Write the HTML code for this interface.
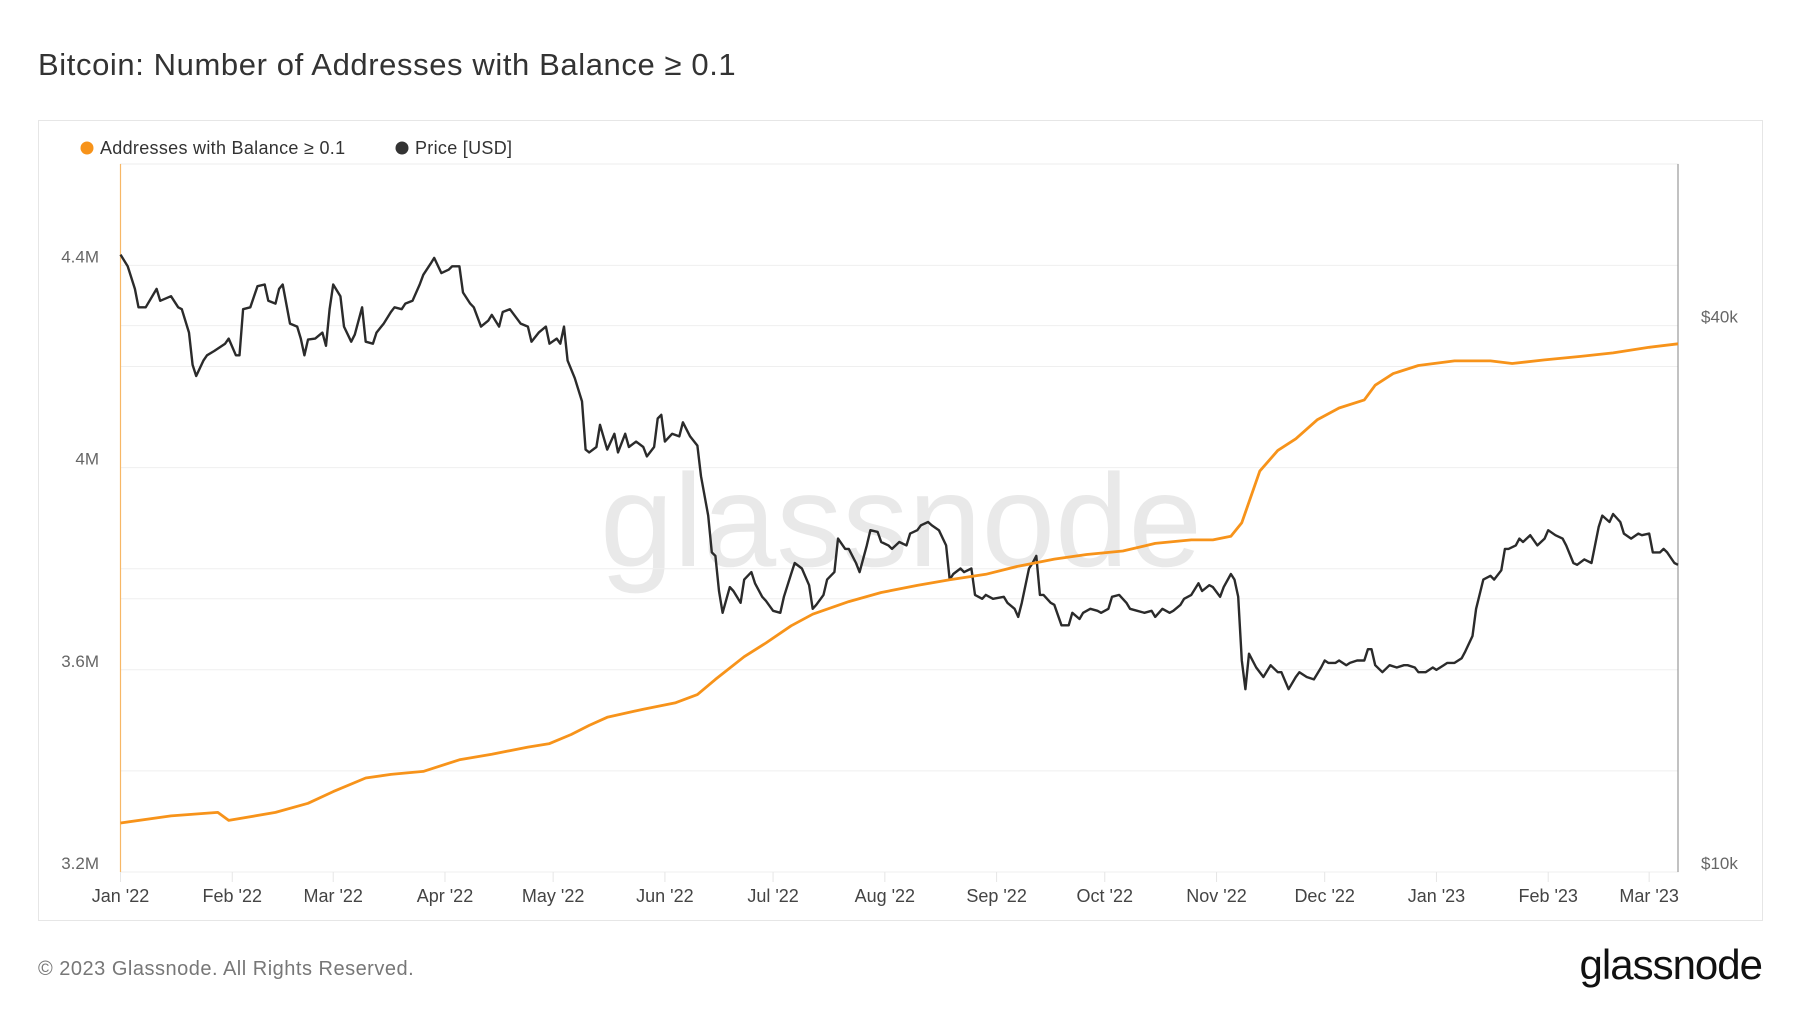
<!DOCTYPE html>
<html><head><meta charset="utf-8">
<style>
body{margin:0;background:#fff;width:1800px;height:1013px;overflow:hidden;font-family:"Liberation Sans",sans-serif;}
svg text{font-family:"Liberation Sans",sans-serif;}
</style></head>
<body>
<svg id="chart" width="1800" height="1013" xmlns="http://www.w3.org/2000/svg">
<text x="38" y="75" font-size="31" letter-spacing="0.6" fill="#333">Bitcoin: Number of Addresses with Balance ≥ 0.1</text>
<rect x="38.5" y="120.5" width="1724" height="800" fill="#fff" stroke="#e6e6e6"/>
<g>
<g><circle cx="87" cy="148" r="6.5" fill="#f7931a"/><text x="100" y="154" font-size="18" letter-spacing="0.3" fill="#333">Addresses with Balance ≥ 0.1</text></g>
<g><circle cx="402" cy="148" r="6.5" fill="#333"/><text x="415" y="154" font-size="18" letter-spacing="0.3" fill="#333">Price [USD]</text></g>
</g>
<text x="901" y="566" font-size="132" fill="#e9e9e9" text-anchor="middle">glassnode</text>
<g id="grid"></g>
<g id="axes"></g>
<g id="series"></g>
<text x="38" y="975" font-size="20" letter-spacing="0.5" fill="#777">© 2023 Glassnode. All Rights Reserved.</text>
<text x="1762" y="979" font-size="42" fill="#111" text-anchor="end" letter-spacing="-1">glassnode</text>
</svg>
<script>
const addrDays=[0,14,27,30,43,52,59,68,75,84,94,103,113,119,125,130,135,145,154,160,165,173,179,186,192,202,211,221,230,240,249,259,268,278,287,297,303,308,311,316,321,326,332,338,345,348,353,360,370,380,386,395,405,414,424,432];
const addrValues=[3.297,3.311,3.318,3.302,3.318,3.336,3.359,3.386,3.393,3.399,3.422,3.433,3.447,3.454,3.472,3.49,3.506,3.522,3.535,3.551,3.581,3.626,3.653,3.687,3.71,3.735,3.753,3.767,3.778,3.789,3.805,3.819,3.828,3.835,3.85,3.857,3.857,3.864,3.891,3.993,4.034,4.057,4.095,4.118,4.134,4.163,4.186,4.202,4.211,4.211,4.206,4.213,4.22,4.227,4.238,4.245];
const priceDays=[0,2,4,5,7,10,11,14,16,17,19,20,21,23,24,26,29,30,32,33,34,36,38,40,41,43,44,45,47,49,50,51,52,54,56,57,58,59,61,62,64,65,67,68,70,71,73,75,76,78,79,81,83,84,86,87,89,91,92,94,95,97,98,100,102,103,105,106,108,110,111,113,114,116,118,119,121,122,123,124,126,128,129,130,132,133,135,137,138,140,141,143,145,146,148,149,150,151,153,155,156,158,160,161,163,164,165,166,167,169,170,172,173,175,176,178,179,181,183,184,186,187,189,191,192,193,195,196,198,199,201,202,204,205,207,208,210,211,213,214,216,218,219,221,222,224,225,227,229,230,231,233,234,236,237,239,240,242,245,246,248,249,250,252,253,254,255,256,258,259,261,263,264,266,267,269,271,272,274,275,277,279,280,282,284,286,287,289,291,292,294,295,297,299,300,302,303,305,306,308,309,310,311,312,313,315,317,319,321,322,324,326,327,329,331,333,334,335,337,338,340,341,343,345,346,347,348,350,352,354,356,357,359,360,362,364,365,367,368,370,372,373,375,376,378,380,381,383,384,385,387,388,389,391,393,395,396,398,400,401,403,404,406,408,410,411,413,414,416,417,419,421,422,424,425,427,428,429,431,432];
const priceK=[47.9,46.5,43.9,41.9,41.9,43.9,42.6,43.1,41.9,41.7,39.3,36.2,35.2,36.6,37.1,37.5,38.2,38.7,37.1,37.1,41.7,41.9,44.2,44.4,42.6,42.3,43.9,44.4,40.2,39.9,38.7,37.1,38.6,38.7,39.3,38.0,41.7,44.4,43.1,39.9,38.4,39.1,41.9,38.4,38.2,39.3,40.2,41.4,41.9,41.7,42.3,42.6,44.4,45.5,46.8,47.5,45.7,46.1,46.5,46.5,43.5,42.3,41.9,39.9,40.5,41.1,39.9,41.4,41.7,40.7,40.2,39.9,38.4,39.3,39.9,38.2,38.7,38.2,39.9,36.6,35.0,33.0,29.2,29.0,29.4,31.1,29.2,30.4,29.0,30.4,29.4,29.8,29.4,28.7,29.4,31.6,31.9,29.8,30.4,30.2,31.3,30.2,29.5,27.3,24.7,22.5,22.3,20.4,19.3,20.6,20.4,19.8,21.0,21.4,20.8,20.1,19.9,19.4,19.3,20.1,21.3,21.9,21.6,20.7,19.5,19.7,20.2,21.0,21.4,23.3,22.7,22.7,21.9,21.4,22.9,23.8,23.7,23.1,22.9,22.7,23.1,22.9,23.6,23.8,24.1,24.3,24.1,23.8,22.9,21.0,21.3,21.6,21.4,21.6,20.2,20.0,20.2,20.0,20.1,19.8,19.5,19.1,19.8,21.6,21.9,22.3,20.2,20.2,19.8,19.7,18.7,18.7,19.3,19.0,19.3,19.5,19.4,19.3,19.5,20.1,20.2,19.8,19.5,19.4,19.3,19.4,19.1,19.5,19.3,19.4,19.7,20.0,20.2,20.8,20.4,20.7,20.6,20.1,20.6,21.3,21.0,20.1,17.1,15.9,17.4,16.8,16.4,16.9,16.6,16.6,15.9,16.4,16.6,16.4,16.3,16.8,17.1,17.0,17.0,17.1,16.9,17.0,17.1,17.1,17.6,17.6,16.9,16.6,16.9,16.8,16.9,16.9,16.8,16.6,16.6,16.8,16.7,16.9,17.0,17.0,17.2,17.5,18.2,19.5,21.0,21.2,21.0,21.5,22.7,22.7,22.9,23.3,23.1,23.5,22.9,23.3,23.8,23.5,23.3,22.9,21.9,21.8,22.1,21.9,24.0,24.7,24.3,24.8,24.3,23.6,23.3,23.6,23.5,23.6,22.5,22.5,22.7,22.5,21.9,21.8];
const monthLabels=["Jan '22","Feb '22","Mar '22","Apr '22","May '22","Jun '22","Jul '22","Aug '22","Sep '22","Oct '22","Nov '22","Dec '22","Jan '23","Feb '23","Mar '23"];
const monthDays=[0,31,59,90,120,151,181,212,243,273,304,334,365,396,424];
const leftTicks=[3.2,3.6,4.0,4.4];
const leftTickLabels=["3.2M","3.6M","4M","4.4M"];
const leftGrid=[3.4,3.8,4.2];
const rightTicks=[10,40];
const rightTickLabels=["$10k","$40k"];
const rightGrid=[20];

const NS="http://www.w3.org/2000/svg";
const PL=120.5,PR=1678,PT=164,PB=872,DMAX=432;
const xS=d=>PL+d/DMAX*(PR-PL);
const yL=v=>PB-(v-3.2)*505.5;
const yR=k=>PB-Math.log2(k/10)*273.2;
function mk(tag,attrs,parent){const e=document.createElementNS(NS,tag);for(const k in attrs)e.setAttribute(k,attrs[k]);parent.appendChild(e);return e;}
const grid=document.getElementById('grid'),axes=document.getElementById('axes'),series=document.getElementById('series');
mk('rect',{x:PL,y:PT,width:PR-PL,height:PB-PT,fill:'none',stroke:'#ececec'},grid);
leftTicks.concat(leftGrid).forEach(v=>{const l=mk('line',{x1:PL,x2:PR,y1:yL(v),y2:yL(v),stroke:'#efefef'},grid);

});
rightTicks.concat(rightGrid).forEach(v=>{const l=mk('line',{x1:PL,x2:PR,y1:yR(v),y2:yR(v),stroke:'#efefef'},grid);

});
leftTicks.forEach((v,i)=>{const t=mk('text',{x:99,y:yL(v)-3,'font-size':17,fill:'#666','text-anchor':'end'},axes);t.textContent=leftTickLabels[i];

});
rightTicks.forEach((v,i)=>{const t=mk('text',{x:1701,y:yR(v)-3,'font-size':17,fill:'#666'},axes);t.textContent=rightTickLabels[i];

});
monthDays.forEach((d,i)=>{const x=xS(d);mk('line',{x1:x,x2:x,y1:PB,y2:PB+10,stroke:'#e6e6e6'},axes);
const t=mk('text',{x:x,y:902,'font-size':18,fill:'#444','text-anchor':'middle'},axes);t.textContent=monthLabels[i];

});
const la=mk('line',{x1:PL,x2:PL,y1:PT,y2:PB,stroke:'#f7b766','stroke-width':1.2},axes);


const ra=mk('line',{x1:PR,x2:PR,y1:PT,y2:PB,stroke:'#999','stroke-width':1.2},axes);


const pp=mk('polyline',{points:priceDays.map((d,i)=>xS(d).toFixed(1)+','+yR(priceK[i]).toFixed(1)).join(' '),fill:'none',stroke:'#2b2b2b','stroke-width':2.4,'stroke-linejoin':'round'},series);


const ap=mk('polyline',{points:addrDays.map((d,i)=>xS(d).toFixed(1)+','+yL(addrValues[i]).toFixed(1)).join(' '),fill:'none',stroke:'#f7931a','stroke-width':2.8,'stroke-linejoin':'round'},series);


</script>
</body></html>
